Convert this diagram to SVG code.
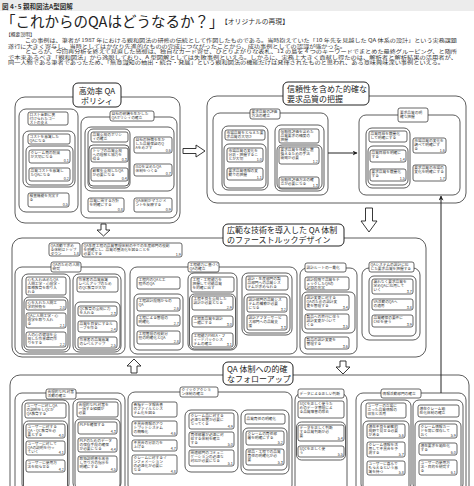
<svg xmlns="http://www.w3.org/2000/svg" width="474" height="486" viewBox="0 0 474 486">
<defs>
<marker id="ah" viewBox="0 0 10 10" refX="9" refY="5" markerWidth="5" markerHeight="5" orient="auto"><path d="M0,0 L10,5 L0,10 L3,5 Z" fill="#222"/></marker>
<style>
.g{fill:none;stroke:#333;stroke-width:.8}
.c{fill:#fff;stroke:#333;stroke-width:.75}
.T{fill:#fff;stroke:#222;stroke-width:1}
.t{font-family:"Noto Sans CJK JP","Noto Sans CJK SC",sans-serif;font-size:3.7px;fill:#333}
.n{font-family:"Noto Sans CJK JP",sans-serif;font-size:3.7px;fill:#333;text-anchor:end}
.L{font-family:"Noto Sans CJK JP",sans-serif;font-size:8px;fill:#222}
.d{font-family:"Noto Sans CJK JP",sans-serif;font-size:5.1px;fill:#333}
.ar{fill:#fff;stroke:#222;stroke-width:.9}
.ln{fill:none;stroke:#222;stroke-width:1}
</style>
</defs>
<rect width="474" height="486" fill="#fff"/>
<rect width="474" height="11" fill="#ececec"/>
<g id="header">
<text x="2" y="9" style="font-family:'Noto Sans CJK JP',sans-serif;font-size:6.5px;font-weight:bold;fill:#333">図 4·5 親和図法A型図解</text>
<text x="1" y="26.8" style="font-family:'Noto Sans CJK JP',sans-serif;font-size:14.5px;fill:#222">「これからのQAはどうなるか？」</text>
<text x="221" y="23.5" style="font-family:'Noto Sans CJK JP',sans-serif;font-size:6.8px;fill:#333">【オリジナルの再現】</text>
<text x="6" y="36.2" style="font-family:'Noto Sans CJK JP',sans-serif;font-size:4.8px;fill:#333">【概要説明】</text>
<text class="d" x="25" y="42.3" textLength="432" lengthAdjust="spacingAndGlyphs">この事例は、筆者が 1987 年における親和図法の研修の伝統として作図したものである。当時抱えていた「10 年先を見越した QA 体系の設計」という実務課題</text>
<text class="d" x="8" y="47.8" textLength="338" lengthAdjust="spacingAndGlyphs">遂行に大きく寄与し、当時としてはかなり先進的なものの完成につながったことから、成功事例としての認識が強かった。</text>
<text class="d" x="25" y="53.3" textLength="432" lengthAdjust="spacingAndGlyphs">ところが、今回再分析を終えて見直した感想は、独自なカード寄せ、ひとりよがりな表札、12 の島を 4 つのキーワードでまとめた最終グルーピング、と随所</text>
<text class="d" x="8" y="58.8" textLength="449" lengthAdjust="spacingAndGlyphs">で本来あるべき「親和図法」から逸脱しており、A 型図解としては失敗事例といえる。しかるに、実務上大きく貢献し得たのは、解析者と解析結果の活用者が、</text>
<text class="d" x="8" y="64.3" textLength="436" lengthAdjust="spacingAndGlyphs">同一人物である筆者であったため、「無意識知の抽出・統合・発展」という親和図法の機能だけは発揮されたものと思われ、ある意味興味深い事例といえる。</text>
</g>

<g id="groups">
<rect class="g" x="15" y="97" width="165" height="126" rx="10"/>
<rect class="g" x="19" y="109" width="59" height="103" rx="7"/>
<rect class="g" x="23" y="131" width="52" height="56" rx="6"/>
<rect class="g" x="26" y="146" width="47" height="39" rx="5"/>
<rect class="g" x="81" y="117" width="96" height="101" rx="7"/>
<rect class="g" x="85" y="127" width="89" height="64" rx="6"/>
<rect class="g" x="88" y="129" width="42" height="59" rx="5"/>
<rect class="g" x="89" y="145" width="40" height="41" rx="4"/>

<rect class="g" x="207" y="96" width="259" height="107" rx="10"/>
<rect class="g" x="213" y="113" width="115" height="82" rx="7"/>
<rect class="g" x="222" y="126" width="46" height="64" rx="6"/>
<rect class="g" x="224" y="144" width="42" height="44" rx="5"/>
<rect class="g" x="275" y="125" width="49" height="66" rx="6"/>
<rect class="g" x="277" y="145" width="45" height="44" rx="5"/>
<rect class="g" x="359" y="115" width="101" height="80" rx="7"/>
<rect class="g" x="366" y="128" width="44" height="60" rx="6"/>
<rect class="g" x="368" y="146" width="40" height="39" rx="5"/>

<rect class="g" x="12" y="238" width="414" height="119" rx="10"/>
<rect class="g" x="15" y="267" width="110" height="87" rx="7"/>
<rect class="g" x="22" y="274" width="48" height="78" rx="6"/>
<rect class="g" x="24" y="297" width="44" height="53" rx="5"/>
<rect class="g" x="73" y="274" width="48" height="78" rx="6"/>
<rect class="g" x="75" y="302" width="45" height="48" rx="5"/>
<rect class="g" x="130" y="267" width="167" height="87" rx="7"/>
<rect class="g" x="134" y="294" width="49" height="56" rx="5"/>
<rect class="g" x="188" y="273" width="49" height="77" rx="6"/>
<rect class="g" x="189.5" y="294" width="46" height="55" rx="5"/>
<rect class="g" x="242" y="273" width="50" height="62" rx="6"/>
<rect class="g" x="244" y="294" width="46" height="39" rx="5"/>
<rect class="g" x="300" y="268" width="57" height="86" rx="7"/>
<rect class="g" x="302" y="292" width="53" height="41" rx="5"/>
<rect class="g" x="362" y="268" width="58" height="72" rx="7"/>
<rect class="g" x="369" y="276" width="47" height="60" rx="5"/>

<rect class="g" x="10" y="375" width="459" height="125" rx="10"/>
<rect class="g" x="15" y="393" width="110" height="100" rx="7"/>
<rect class="g" x="22" y="400" width="47" height="90" rx="6"/>
<rect class="g" x="23.5" y="421" width="44" height="70" rx="5"/>
<rect class="g" x="73" y="399" width="48" height="90" rx="6"/>
<rect class="g" x="75" y="419" width="45" height="70" rx="5"/>
<rect class="g" x="128" y="392" width="164" height="100" rx="7"/>
<rect class="g" x="185" y="410" width="53" height="62" rx="6"/>
<rect class="g" x="241" y="410" width="48" height="64" rx="6"/>
<rect class="g" x="243" y="428" width="44" height="42" rx="5"/>
<rect class="g" x="295" y="393" width="52" height="100" rx="7"/>
<rect class="g" x="296.5" y="422" width="49" height="38" rx="5"/>
<rect class="g" x="356" y="393" width="110" height="100" rx="7"/>
<rect class="g" x="361" y="400" width="50" height="90" rx="6"/>
<rect class="g" x="363" y="421" width="46" height="70" rx="5"/>
<rect class="g" x="413" y="400" width="50" height="90" rx="6"/>
<rect class="g" x="415" y="421" width="46" height="70" rx="5"/>
</g>

<g id="connectors">
<polygon class="ar" points="183,148.5 196,148.5 196,145 205,151 196,157 196,153.5 183,153.5"/>
<polygon class="ar" points="101,224 106,224 106,230 110,230 103.5,236 97,230 101,230"/>
<polygon class="ar" points="365.5,208 372.5,208 372.5,221 377,221 369,232 361,221 365.5,221"/>
<polygon class="ar" points="134,359 141,366 137,366 137,373 131,373 131,366 127,366"/>
<polygon class="ar" points="340,361 346,361 346,367 350,367 343,374 336,367 340,367"/>
<line class="ln" x1="328" y1="153" x2="357" y2="153" marker-end="url(#ah)"/>
<line class="ln" x1="441" y1="393" x2="441" y2="196" marker-end="url(#ah)"/>
</g>

<g id="titles">
<g id="title-tl"><rect class="T" x="73" y="83" width="48" height="24" rx="5"/><text class="L" x="97" y="93.5" text-anchor="middle">高効率 QA</text><text class="L" x="97" y="104" text-anchor="middle">ポリシィ</text></g>
<g id="title-tr"><rect class="T" x="283" y="82" width="86" height="23" rx="5"/><text class="L" x="287" y="91.5">信頼性を含めた的確な</text><text class="L" x="287" y="101.5">要求品質の把握</text></g>
<g id="title-m"><rect class="T" x="223" y="224" width="121" height="22" rx="5"/><text class="L" x="227" y="233">広範な技術を導入した QA 体制</text><text class="L" x="227" y="242.5">のファーストルックデザイン</text></g>
<g id="title-b"><rect class="T" x="223" y="362" width="70" height="23" rx="5"/><text class="L" x="227" y="372">QA 体制への的確</text><text class="L" x="227" y="382">なフォローアップ</text></g>
</g>

<g id="cards">
<g id="c01"><rect class="c" x="28" y="112" width="40" height="13" rx="2"/><text class="t" x="29.5" y="116.1">ロスト金額に裏<tspan x="29.5" dy="4">付けられたコー</tspan><tspan x="29.5" dy="4">ストの支え</tspan></text></g>
<g id="c02"><rect class="c" x="28" y="134" width="42" height="10" rx="2"/><text class="t" x="29.5" y="138.1">コストを意識した<tspan x="29.5" dy="4">QAになる</tspan></text></g>
<g id="c03"><rect class="c" x="29" y="150" width="41" height="13" rx="2"/><text class="t" x="30.5" y="154.1">クレーム費の削減<tspan x="30.5" dy="4">が大切になる</tspan></text><text class="n" x="68.8" y="161.7">0.1</text></g>
<g id="c04"><rect class="c" x="29" y="168" width="41" height="13" rx="2"/><text class="t" x="30.5" y="172.1">品質コストを意識し<tspan x="30.5" dy="4">たQAになる</tspan></text><text class="n" x="68.8" y="179.7">0.2</text></g>
<g id="c05"><rect class="c" x="28" y="193" width="41" height="14" rx="2"/><text class="t" x="29.5" y="197.1">検査機能を充実す<tspan x="29.5" dy="4">る</tspan></text><text class="n" x="67.8" y="205.7">0.5</text></g>
<g id="c06"><rect class="c" x="110" y="111" width="44" height="10" rx="2"/><text class="t" x="111.5" y="115.1">自社の研鑽を生かした<tspan x="111.5" dy="4">QAポリシィの確立</tspan></text></g>
<g id="c07"><rect class="c" x="91" y="132" width="37" height="10" rx="2"/><text class="t" x="92.5" y="136.1">品質重視のポリシ<tspan x="92.5" dy="4">ィの確立</tspan></text></g>
<g id="c08"><rect class="c" x="91" y="148" width="37" height="14" rx="2"/><text class="t" x="92.5" y="152.1">トップの品質重視<tspan x="92.5" dy="4">への理解と協力を</tspan><tspan x="92.5" dy="4">得る</tspan></text><text class="n" x="126.8" y="160.7">0.3</text></g>
<g id="c09"><rect class="c" x="91" y="168" width="37" height="13" rx="2"/><text class="t" x="92.5" y="172.1">顧客を重視したQA<tspan x="92.5" dy="4">が必要になる</tspan></text><text class="n" x="126.8" y="179.7">0.4</text></g>
<g id="c10"><rect class="c" x="134" y="137" width="38" height="16" rx="2"/><text class="t" x="135.5" y="141.1">自社の特徴を生か<tspan x="135.5" dy="4">した品質保証のQ</tspan><tspan x="135.5" dy="4">Aをめざす</tspan></text><text class="n" x="170.8" y="151.7">0.6</text></g>
<g id="c11"><rect class="c" x="134" y="164" width="38" height="12" rx="2"/><text class="t" x="135.5" y="168.1">ISOを含めたQA<tspan x="135.5" dy="4">体制をつくる</tspan></text><text class="n" x="170.8" y="174.7">0.7</text></g>
<g id="c12"><rect class="c" x="88" y="198" width="36" height="14" rx="2"/><text class="t" x="89.5" y="202.1">品質に関する方針<tspan x="89.5" dy="4">を明確にする</tspan></text><text class="n" x="122.8" y="210.7">0.8</text></g>
<g id="c13"><rect class="c" x="134" y="198" width="38" height="14" rx="2"/><text class="t" x="135.5" y="202.1">QA体制がマネジメ<tspan x="135.5" dy="4">ントを反映する</tspan></text><text class="n" x="170.8" y="210.7">0.9</text></g>

<g id="c14"><rect class="c" x="250" y="109" width="30" height="10" rx="2"/><text class="t" x="251.5" y="113.1">要求品質の評価<tspan x="251.5" dy="4">方法の確立</tspan></text></g>
<g id="c15"><rect class="c" x="225" y="130" width="40" height="10" rx="2"/><text class="t" x="226.5" y="134.1">市場品質をとらえた要<tspan x="226.5" dy="4">求品質の大切さ</tspan></text></g>
<g id="c16"><rect class="c" x="227" y="148" width="36" height="14" rx="2"/><text class="t" x="228.5" y="152.1">市場品質の変化を<tspan x="228.5" dy="4">分析・把握するこ</tspan><tspan x="228.5" dy="4">とが大切</tspan></text><text class="n" x="261.8" y="160.7">1.0</text></g>
<g id="c17"><rect class="c" x="227" y="168" width="36" height="12" rx="2"/><text class="t" x="228.5" y="172.1">要求品質情報の変<tspan x="228.5" dy="4">動での把握</tspan></text><text class="n" x="261.8" y="178.7">1.1</text></g>
<g id="c18"><rect class="c" x="279" y="129" width="40" height="14" rx="2"/><text class="t" x="280.5" y="133.1">信頼性評価を含めた<tspan x="280.5" dy="4">品質要求の精度の</tspan><tspan x="280.5" dy="4">把握</tspan></text></g>
<g id="c19"><rect class="c" x="279" y="147" width="40" height="17" rx="2"/><text class="t" x="280.5" y="151.1">要求品質を性能に置<tspan x="280.5" dy="4">換えるための手法</tspan><tspan x="280.5" dy="4">開発が必要</tspan></text><text class="n" x="317.8" y="162.7">1.2</text></g>
<g id="c20"><rect class="c" x="279" y="177" width="40" height="11" rx="2"/><text class="t" x="280.5" y="181.1">信頼性評価方法の確<tspan x="280.5" dy="4">立が必要になる</tspan></text><text class="n" x="317.8" y="186.7">1.3</text></g>
<g id="c21"><rect class="c" x="398" y="108" width="30" height="14" rx="2"/><text class="t" x="400" y="113.5">要求品質の明<tspan x="400" dy="4.5">確な把握</tspan></text></g>
<g id="c22"><rect class="c" x="369" y="131" width="38" height="11" rx="2"/><text class="t" x="370.5" y="135.3">品質目標を数量化<tspan x="370.5" dy="4">して明確にする</tspan></text></g>
<g id="c23"><rect class="c" x="370" y="150" width="36" height="12" rx="2"/><text class="t" x="371.5" y="154.1">品質目標を明確に<tspan x="371.5" dy="4">する</tspan></text><text class="n" x="404.8" y="160.7">1.4</text></g>
<g id="c24"><rect class="c" x="370" y="169" width="36" height="12" rx="2"/><text class="t" x="371.5" y="173.1">要求品質を数量化<tspan x="371.5" dy="4">する</tspan></text><text class="n" x="404.8" y="179.7">1.5</text></g>
<g id="c25"><rect class="c" x="413" y="138" width="33" height="15" rx="2"/><text class="t" x="414.3" y="142.1">市場品質の変化を<tspan x="414.3" dy="4">調べて明確にす</tspan><tspan x="414.3" dy="4">る</tspan></text><text class="n" x="444.8" y="151.7">1.6</text></g>
<g id="c26"><rect class="c" x="413" y="165" width="33" height="16" rx="2"/><text class="t" x="414.3" y="169.1">要求品質の市場の<tspan x="414.3" dy="4">変化を明確にする</tspan></text><text class="n" x="444.8" y="179.7">1.7</text></g>

<g id="c27"><rect class="c" x="49" y="243" width="31" height="13" rx="2"/><text class="t" x="50.5" y="247.1">QA活動で求め<tspan x="50.5" dy="4">る体制はトップ</tspan><tspan x="50.5" dy="4">ダウン</tspan></text><text class="n" x="78.8" y="254.7">1.8</text></g>
<g id="c28"><rect class="c" x="82" y="243" width="100" height="14" rx="2"/><text class="t" x="83.5" y="247.1">QA生産工程の品質管理体制の中での生産部門の役割<tspan x="83.5" dy="4">を明確にし、品質の整流化を図ることを</tspan><tspan x="83.5" dy="4">必要とする</tspan></text><text class="n" x="180.8" y="255.7">1.9</text></g>
<g id="c29"><rect class="c" x="51" y="262" width="30" height="10" rx="2"/><text class="t" x="52.5" y="266.1">QAのための人間<tspan x="52.5" dy="4">研究</tspan></text></g>
<g id="c30"><rect class="c" x="26" y="277" width="40" height="18" rx="2"/><text class="t" x="27.5" y="281.1">心も入れ込めたQA<tspan x="27.5" dy="4">人間工学・心理学・</tspan><tspan x="27.5" dy="4">医療教育を取り入</tspan><tspan x="27.5" dy="4">れる</tspan></text></g>
<g id="c31"><rect class="c" x="26" y="300" width="40" height="10" rx="2"/><text class="t" x="27.5" y="304.1">心を入れた人間工<tspan x="27.5" dy="4">学的技術を</tspan></text><text class="n" x="64.8" y="308.7">2.0</text></g>
<g id="c32"><rect class="c" x="26" y="313" width="40" height="15" rx="2"/><text class="t" x="27.5" y="317.1">QAに人間工学・心<tspan x="27.5" dy="4">理学を取り入れ</tspan><tspan x="27.5" dy="4">る</tspan></text><text class="n" x="64.8" y="326.7">2.1</text></g>
<g id="c33"><rect class="c" x="26" y="332" width="40" height="15" rx="2"/><text class="t" x="27.5" y="336.1">人の心の健康を重<tspan x="27.5" dy="4">視した作業環境作</tspan><tspan x="27.5" dy="4">りをする</tspan></text><text class="n" x="64.8" y="345.7">2.2</text></g>
<g id="c34"><rect class="c" x="77" y="277" width="41" height="15" rx="2"/><text class="t" x="78.5" y="281.1">作業者の品質意識<tspan x="78.5" dy="4">レベルアップのため</tspan><tspan x="78.5" dy="4">のQC教育が大切</tspan></text></g>
<g id="c35"><rect class="c" x="78" y="306" width="39" height="10" rx="2"/><text class="t" x="79.5" y="310.1">QC教育の重視に力<tspan x="79.5" dy="4">を入れる</tspan></text><text class="n" x="115.8" y="314.7">2.3</text></g>
<g id="c36"><rect class="c" x="78" y="321" width="39" height="11" rx="2"/><text class="t" x="79.5" y="325.1">品質を目安にするル<tspan x="79.5" dy="4">ーブを作る</tspan></text><text class="n" x="115.8" y="330.7">2.4</text></g>
<g id="c37"><rect class="c" x="78" y="337" width="39" height="11" rx="2"/><text class="t" x="79.5" y="341.1">作業者の品質意識<tspan x="79.5" dy="4">のレベルアップ</tspan></text><text class="n" x="115.8" y="346.7">2.5</text></g>
<g id="c38"><rect class="c" x="188" y="262" width="31" height="10" rx="2"/><text class="t" x="189.5" y="266.1">工程能力に基づく<tspan x="189.5" dy="4">QAの確立</tspan></text></g>
<g id="c39"><rect class="c" x="137" y="277" width="43" height="12" rx="2"/><text class="t" x="138.5" y="281.1">工程内のQAと工<tspan x="138.5" dy="4">程外のQA</tspan></text></g>
<g id="c40"><rect class="c" x="137" y="298" width="43" height="13" rx="2"/><text class="t" x="138.5" y="302.1">工程設計段階からの<tspan x="138.5" dy="4">QA</tspan></text><text class="n" x="178.8" y="309.7">2.6</text></g>
<g id="c41"><rect class="c" x="137" y="315" width="43" height="11" rx="2"/><text class="t" x="138.5" y="319.1">工程による管理の<tspan x="138.5" dy="4">明確化</tspan></text><text class="n" x="178.8" y="324.7">2.7</text></g>
<g id="c42"><rect class="c" x="137" y="331" width="43" height="13" rx="2"/><text class="t" x="138.5" y="335.1">工程管理の役割分<tspan x="138.5" dy="4">担の明確化とQA</tspan></text><text class="n" x="178.8" y="342.7">2.8</text></g>
<g id="c43"><rect class="c" x="191" y="277" width="43" height="15" rx="2"/><text class="t" x="192.5" y="281.1">工程・工程能力を<tspan x="192.5" dy="4">把握して可能品質</tspan><tspan x="192.5" dy="4">を的確に出す</tspan></text></g>
<g id="c44"><rect class="c" x="192" y="296" width="41" height="14" rx="2"/><text class="t" x="193.5" y="300.1">工程不良を重視した<tspan x="193.5" dy="4">設計が必要となる</tspan></text><text class="n" x="231.8" y="308.7">2.9</text></g>
<g id="c45"><rect class="c" x="192" y="316" width="41" height="11" rx="2"/><text class="t" x="193.5" y="320.1">工程表品質を設計<tspan x="193.5" dy="4">一緒にする</tspan></text><text class="n" x="231.8" y="325.7">3.0</text></g>
<g id="c46"><rect class="c" x="192" y="333" width="41" height="14" rx="2"/><text class="t" x="193.5" y="337.1">工程能力FMEA・フ<tspan x="193.5" dy="4">ィードバックシス</tspan><tspan x="193.5" dy="4">テムの確立</tspan></text><text class="n" x="231.8" y="345.7">3.1</text></g>
<g id="c47"><rect class="c" x="246" y="276" width="42" height="14" rx="2"/><text class="t" x="247.5" y="280.1">設計・生産部門の製<tspan x="247.5" dy="4">品部門への品質シス</tspan><tspan x="247.5" dy="4">テムが求められる</tspan></text></g>
<g id="c48"><rect class="c" x="247" y="297" width="40" height="15" rx="2"/><text class="t" x="248.5" y="301.1">設計部門の品質シス<tspan x="248.5" dy="4">テムの構築が必要</tspan><tspan x="248.5" dy="4">になる</tspan></text><text class="n" x="285.8" y="310.7">3.2</text></g>
<g id="c49"><rect class="c" x="247" y="315" width="40" height="15" rx="2"/><text class="t" x="248.5" y="319.1">設計アフターサービ<tspan x="248.5" dy="4">ス部門への品質支</tspan><tspan x="248.5" dy="4">援</tspan></text><text class="n" x="285.8" y="328.7">3.3</text></g>
<g id="c50"><rect class="c" x="305" y="263" width="41" height="9" rx="2"/><text class="t" x="306.5" y="268.8">設計ルートの一貫化</text></g>
<g id="c51"><rect class="c" x="305" y="277" width="44" height="13" rx="2"/><text class="t" x="306.5" y="281.1">設計段階で品質をチ<tspan x="306.5" dy="4">ェックしたQAの</tspan><tspan x="306.5" dy="4">記録の充実</tspan></text></g>
<g id="c52"><rect class="c" x="305" y="295" width="44" height="15" rx="2"/><text class="t" x="306.5" y="299.1">設計変更に対する<tspan x="306.5" dy="4">QAのための設計変</tspan><tspan x="306.5" dy="4">更を管理する</tspan></text><text class="n" x="347.8" y="308.7">3.4</text></g>
<g id="c53"><rect class="c" x="305" y="314" width="44" height="15" rx="2"/><text class="t" x="306.5" y="318.1">製品への移行に伴う<tspan x="306.5" dy="4">設計変更がついて</tspan><tspan x="306.5" dy="4">くる</tspan></text><text class="n" x="347.8" y="327.7">3.5</text></g>
<g id="c54"><rect class="c" x="305" y="337" width="44" height="12" rx="2"/><text class="t" x="306.5" y="341.1">製品の設計変更を<tspan x="306.5" dy="4">管理する</tspan></text><text class="n" x="347.8" y="347.7">3.6</text></g>
<g id="c55"><rect class="c" x="369" y="262" width="45" height="10" rx="2"/><text class="t" x="370.5" y="266.1">QAシステムの設計に応<tspan x="370.5" dy="4">じた要求品質を把握する</tspan></text></g>
<g id="c56"><rect class="c" x="372" y="279" width="41" height="15" rx="2"/><text class="t" x="373.5" y="283.1">漏れなく要求品質を<tspan x="373.5" dy="4">定めQAに応用して</tspan><tspan x="373.5" dy="4">いく</tspan></text><text class="n" x="411.8" y="292.7">3.7</text></g>
<g id="c57"><rect class="c" x="372" y="299" width="41" height="11" rx="2"/><text class="t" x="373.5" y="303.1">VA活動のQAへ<tspan x="373.5" dy="4">の適用</tspan></text><text class="n" x="411.8" y="308.7">3.8</text></g>
<g id="c58"><rect class="c" x="372" y="315" width="41" height="12" rx="2"/><text class="t" x="373.5" y="319.1">品質確保の要件に<tspan x="373.5" dy="4">CAEを使う</tspan></text><text class="n" x="411.8" y="325.7">3.9</text></g>

<g id="c59"><rect class="c" x="46" y="389" width="30" height="10" rx="2"/><text class="t" x="47.5" y="393.1">合理的なPL対策<tspan x="47.5" dy="4">活動の確立</tspan></text></g>
<g id="c60"><rect class="c" x="25" y="403" width="41" height="15" rx="2"/><text class="t" x="26.5" y="407.1">ユーザーに対しQA<tspan x="26.5" dy="4">の説明をしQCが</tspan><tspan x="26.5" dy="4">QA教育する</tspan></text></g>
<g id="c61"><rect class="c" x="26" y="424" width="39" height="14" rx="2"/><text class="t" x="27.5" y="428.1">ユーザーに対する<tspan x="27.5" dy="4">QA・QC教育を必</tspan><tspan x="27.5" dy="4">要とする</tspan></text><text class="n" x="63.8" y="436.7">4.0</text></g>
<g id="c62"><rect class="c" x="26" y="441" width="39" height="14" rx="2"/><text class="t" x="27.5" y="445.1">ユーザーに対して<tspan x="27.5" dy="4">QAの説明を行っ</tspan><tspan x="27.5" dy="4">ていく</tspan></text><text class="n" x="63.8" y="453.7">4.1</text></g>
<g id="c63"><rect class="c" x="26" y="460" width="39" height="12" rx="2"/><text class="t" x="27.5" y="464.1">ユーザーに使用方<tspan x="27.5" dy="4">法を知らせる</tspan></text><text class="n" x="63.8" y="470.7">4.2</text></g>
<g id="c64"><rect class="c" x="77" y="402" width="41" height="15" rx="2"/><text class="t" x="78.5" y="406.1">合理的なPL対策を<tspan x="78.5" dy="4">一括する組織が</tspan><tspan x="78.5" dy="4">必要</tspan></text></g>
<g id="c65"><rect class="c" x="78" y="422" width="39" height="12" rx="2"/><text class="t" x="79.5" y="426.1">PLPを確保する</text><text class="n" x="115.8" y="432.7">4.3</text></g>
<g id="c66"><rect class="c" x="78" y="438" width="39" height="14" rx="2"/><text class="t" x="79.5" y="442.1">PLPのためのデータ<tspan x="79.5" dy="4">の保存手段の確保</tspan><tspan x="79.5" dy="4">が必要になる</tspan></text><text class="n" x="115.8" y="450.7">4.4</text></g>
<g id="c67"><rect class="c" x="78" y="456" width="39" height="16" rx="2"/><text class="t" x="79.5" y="460.1">取扱説明書を改善<tspan x="79.5" dy="4">し売り方の指示を</tspan><tspan x="79.5" dy="4">明確にする</tspan></text><text class="n" x="115.8" y="470.7">4.5</text></g>
<g id="c68"><rect class="c" x="180" y="387" width="38" height="10" rx="2"/><text class="t" x="181.5" y="391.1">クイックアクショ<tspan x="181.5" dy="4">ン体制の確立</tspan></text></g>
<g id="c69"><rect class="c" x="132" y="402" width="45" height="15" rx="2"/><text class="t" x="133.5" y="406.1">各種データ報告書<tspan x="133.5" dy="4">のファイルとシス</tspan><tspan x="133.5" dy="4">テム化を図る</tspan></text></g>
<g id="c70"><rect class="c" x="132" y="421" width="45" height="15" rx="2"/><text class="t" x="133.5" y="425.1">不具合情報のアウ<tspan x="133.5" dy="4">トプットシステム</tspan><tspan x="133.5" dy="4">の簡略化</tspan></text><text class="n" x="175.8" y="434.7">4.6</text></g>
<g id="c71"><rect class="c" x="132" y="440" width="45" height="11" rx="2"/><text class="t" x="133.5" y="444.1">不具合の分析力を<tspan x="133.5" dy="4">上げる</tspan></text><text class="n" x="175.8" y="449.7">4.7</text></g>
<g id="c72"><rect class="c" x="132" y="455" width="45" height="19" rx="2"/><text class="t" x="133.5" y="459.1">クレームに対するイ<tspan x="133.5" dy="4">ンフォメーション</tspan><tspan x="133.5" dy="4">の迅速化が必要に</tspan><tspan x="133.5" dy="4">なる</tspan></text><text class="n" x="175.8" y="472.7">4.8</text></g>
<g id="c73"><rect class="c" x="189" y="413" width="45" height="16" rx="2"/><text class="t" x="190.5" y="417.1">クレーム品に対する<tspan x="190.5" dy="4">迅速な処置が必要に</tspan><tspan x="190.5" dy="4">なってくる</tspan></text><text class="n" x="232.8" y="427.7">4.9</text></g>
<g id="c74"><rect class="c" x="189" y="432" width="45" height="15" rx="2"/><text class="t" x="190.5" y="436.1">責任部署が迅速に対<tspan x="190.5" dy="4">処する体制を確立</tspan><tspan x="190.5" dy="4">する</tspan></text><text class="n" x="232.8" y="445.7">5.0</text></g>
<g id="c75"><rect class="c" x="189" y="450" width="45" height="16" rx="2"/><text class="t" x="190.5" y="454.1">関連部門のコミュニ<tspan x="190.5" dy="4">ケーションの迅速な</tspan><tspan x="190.5" dy="4">対応が必要になる</tspan></text><text class="n" x="232.8" y="464.7">5.1</text></g>
<g id="c76"><rect class="c" x="245" y="414" width="40" height="10" rx="2"/><text class="t" x="246.5" y="420.3">品質責任の明確化</text></g>
<g id="c77"><rect class="c" x="246" y="431" width="38" height="14" rx="2"/><text class="t" x="247.5" y="435.1">クレームの責任部<tspan x="247.5" dy="4">署を明確にする</tspan></text><text class="n" x="282.8" y="443.7">5.2</text></g>
<g id="c78"><rect class="c" x="246" y="449" width="38" height="16" rx="2"/><text class="t" x="247.5" y="453.1">部品・工程での品質<tspan x="247.5" dy="4">責任の明確化が必</tspan><tspan x="247.5" dy="4">要</tspan></text><text class="n" x="282.8" y="463.7">5.3</text></g>
<g id="c79"><rect class="c" x="298" y="389" width="46" height="9" rx="2"/><text class="t" x="299.5" y="394.8">データによる正しい判断</text></g>
<g id="c80"><rect class="c" x="298" y="401" width="46" height="17" rx="2"/><text class="t" x="299.5" y="405.1">SQCを正しく使うた<tspan x="299.5" dy="4">めのデータ管理によ</tspan><tspan x="299.5" dy="4">る品質障害の除去</tspan></text></g>
<g id="c81"><rect class="c" x="298" y="425" width="46" height="16" rx="2"/><text class="t" x="299.5" y="429.1">データを正しく判断<tspan x="299.5" dy="4">する品質判断が必</tspan><tspan x="299.5" dy="4">要</tspan></text><text class="n" x="342.8" y="439.7">5.4</text></g>
<g id="c82"><rect class="c" x="298" y="446" width="46" height="11" rx="2"/><text class="t" x="299.5" y="450.1">SQCを正しく使<tspan x="299.5" dy="4">う</tspan></text><text class="n" x="342.8" y="455.7">5.5</text></g>
<g id="c83"><rect class="c" x="381" y="389" width="40" height="9" rx="2"/><text class="t" x="382.5" y="394.8">情報活動部門の確立</text></g>
<g id="c84"><rect class="c" x="366" y="403" width="40" height="15" rx="2"/><text class="t" x="367.5" y="407.1">ユーザーの立場に<tspan x="367.5" dy="4">立った品質情報の</tspan><tspan x="367.5" dy="4">収集と活用</tspan></text></g>
<g id="c85"><rect class="c" x="367" y="424" width="38" height="14" rx="2"/><text class="t" x="368.5" y="428.1">潜在不良を顧客的<tspan x="368.5" dy="4">視野で見せる必要</tspan><tspan x="368.5" dy="4">がある</tspan></text><text class="n" x="403.8" y="436.7">5.6</text></g>
<g id="c86"><rect class="c" x="367" y="442" width="38" height="15" rx="2"/><text class="t" x="368.5" y="446.1">クレーム情報を活<tspan x="368.5" dy="4">用して不具合を予</tspan><tspan x="368.5" dy="4">測する</tspan></text><text class="n" x="403.8" y="455.7">5.7</text></g>
<g id="c87"><rect class="c" x="367" y="461" width="38" height="14" rx="2"/><text class="t" x="368.5" y="465.1">ユーザーに喜んで<tspan x="368.5" dy="4">もらえるという意</tspan><tspan x="368.5" dy="4">識を持つ</tspan></text><text class="n" x="403.8" y="473.7">5.8</text></g>
<g id="c88"><rect class="c" x="418" y="405" width="41" height="12" rx="2"/><text class="t" x="419.5" y="409.6">潜在クレーム顕<tspan x="419.5" dy="4">在化体制の確立</tspan></text></g>
<g id="c89"><rect class="c" x="419" y="424" width="38" height="14" rx="2"/><text class="t" x="420.5" y="428.1">クレーム情報カー<tspan x="420.5" dy="4">ドを常に保存して</tspan><tspan x="420.5" dy="4">おく</tspan></text><text class="n" x="455.8" y="436.7">5.9</text></g>
<g id="c90"><rect class="c" x="419" y="443" width="38" height="12" rx="2"/><text class="t" x="420.5" y="447.1">潜在要求を顕在化<tspan x="420.5" dy="4">する</tspan></text><text class="n" x="455.8" y="453.7">6.0</text></g>
<g id="c91"><rect class="c" x="419" y="460" width="38" height="15" rx="2"/><text class="t" x="420.5" y="464.1">ユーザーの使用方<tspan x="420.5" dy="4">法・目的を研究す</tspan><tspan x="420.5" dy="4">る</tspan></text><text class="n" x="455.8" y="473.7">6.1</text></g>
</g>
</svg>
